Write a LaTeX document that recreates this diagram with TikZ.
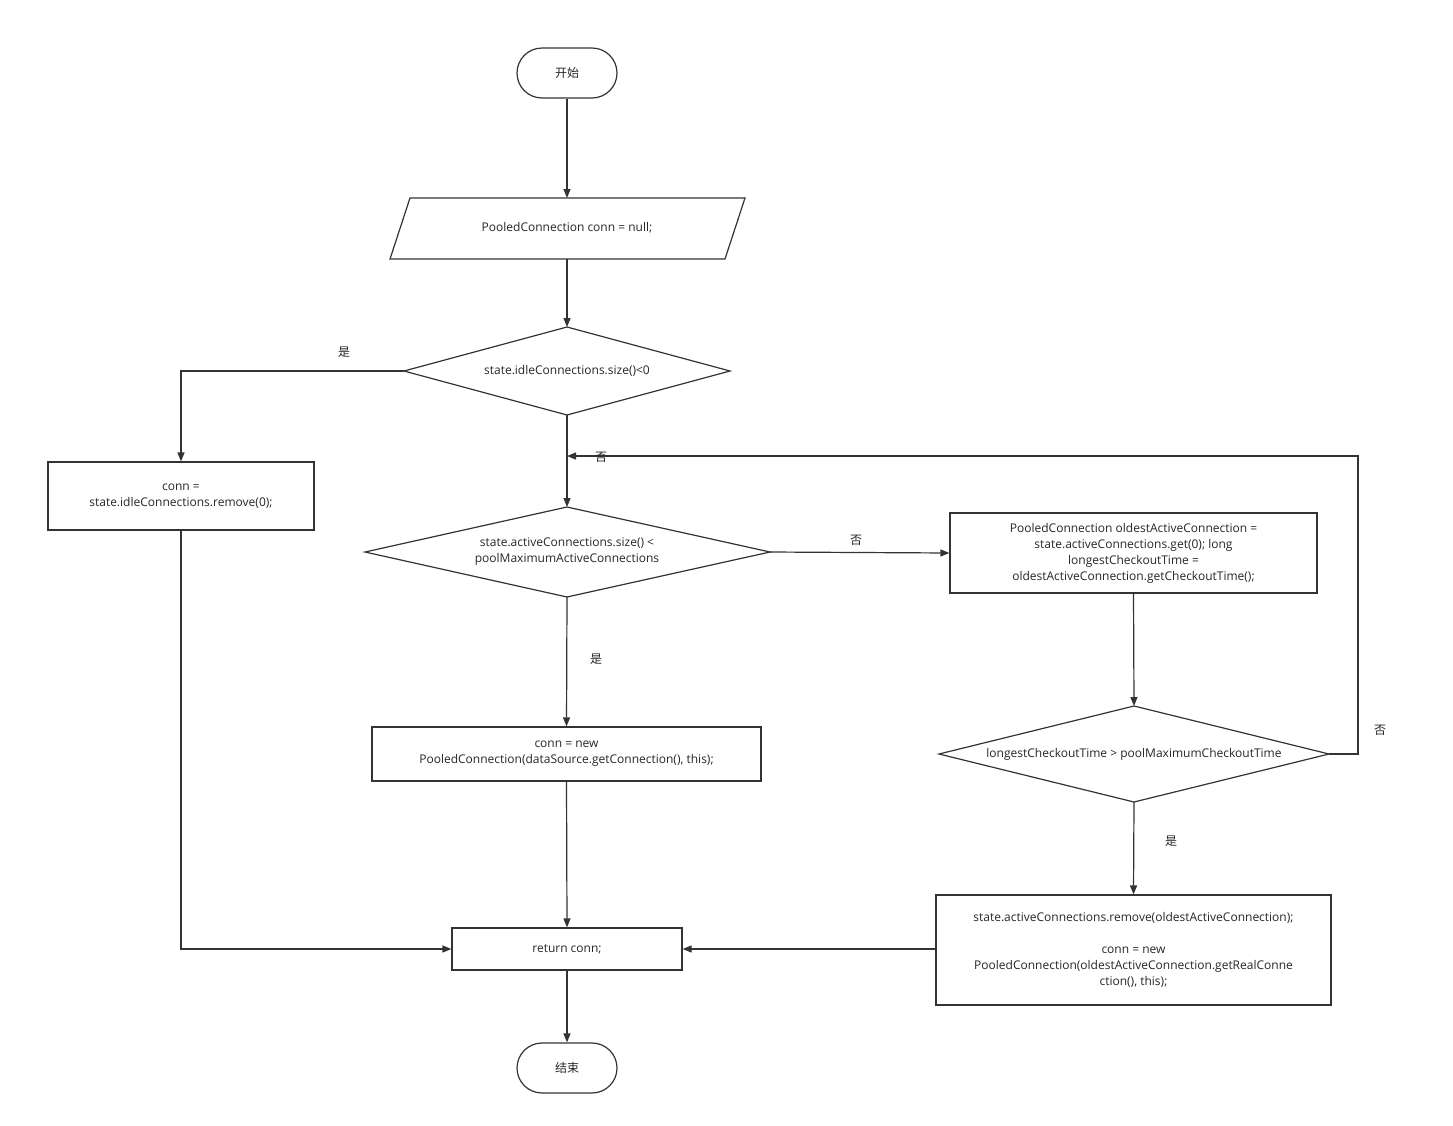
\documentclass[tikz,border=0pt]{standalone}
\usepackage{fontspec}
\setmainfont{Open Sans}
\newfontfamily\cjk{Noto Sans CJK SC}
\usetikzlibrary{arrows.meta,shapes.geometric}
\begin{document}
\begin{tikzpicture}[x=1pt,y=-1pt,
  every node/.style={font=\fontsize{12}{16}\selectfont, text=black!85},
  box/.style={draw=black!80, line width=1.2pt, rectangle, inner sep=0pt, align=center},
  term/.style={draw=black!80, line width=1.2pt, rounded corners=25pt, minimum width=100pt, minimum height=50pt, inner sep=0pt},
  shp/.style={draw=black!80, line width=1.2pt},
  arr/.style={draw=black!80, line width=1.2pt, -{Triangle[length=9pt,width=7pt]}},
  lab/.style={font=\cjk\fontsize{12}{14}\selectfont}]
\useasboundingbox (0,0) rectangle (1453,1125);
\node[term] (start) at (567,73) {\cjk 开始};
\draw[shp] (410,198) -- (745,198) -- (725,259) -- (390,259) -- cycle;
\node (para) at (567,228) {PooledConnection conn = null;};
\coordinate (parab) at (567,259);
\coordinate (parat) at (567,198);
% diamond 1
\draw[shp] (567,327) -- (730,371) -- (567,415) -- (404,371) -- cycle;
\node (d1) at (567,371) {state.idleConnections.size()<0};
\coordinate (d1t) at (567,327); \coordinate (d1b) at (567,415); \coordinate (d1l) at (404,371);
% diamond 2
\draw[shp] (567,507) -- (770,552) -- (567,597) -- (365,552) -- cycle;
\node[align=center] (d2) at (567,552) {state.activeConnections.size() <\\poolMaximumActiveConnections};
\coordinate (d2t) at (567,507); \coordinate (d2b) at (567,597); \coordinate (d2r) at (770,552);
% diamond 3
\draw[shp] (1134,706) -- (1329,754) -- (1134,802) -- (939,754) -- cycle;
\node (d3) at (1134,754) {longestCheckoutTime > poolMaximumCheckoutTime};
\coordinate (d3t) at (1134,706); \coordinate (d3b) at (1134,802); \coordinate (d3r) at (1329,754);
% boxes
\node[box, minimum width=266pt, minimum height=68pt] (idle) at (181,496) {conn =\\state.idleConnections.remove(0);};
\node[box, minimum width=389pt, minimum height=54pt] (newc) at (566.5,754) {conn = new\\PooledConnection(dataSource.getConnection(), this);};
\node[box, minimum width=367pt, minimum height=80pt] (old) at (1133.5,553) {PooledConnection oldestActiveConnection =\\state.activeConnections.get(0); long\\longestCheckoutTime =\\oldestActiveConnection.getCheckoutTime();};
\node[box, minimum width=395pt, minimum height=110pt] (rem) at (1133.5,950) {state.activeConnections.remove(oldestActiveConnection);\\[16pt]conn = new\\PooledConnection(oldestActiveConnection.getRealConne\\ction(), this);};
\node[box, minimum width=230pt, minimum height=42pt] (ret) at (567,949) {return conn;};
\node[term] (end) at (567,1068) {\cjk 结束};
% connectors
\draw[arr] (start) -- (parat);
\draw[arr] (parab) -- (d1t);
\draw[arr] (d1l) -| (idle.north);
\draw[arr] (d1b) -- (d2t);
\draw[arr] (d2b) -- (newc.north);
\draw[arr] (d2r) -- (old.west);
\draw[arr] (old.south) -- (d3t);
\draw[arr] (d3b) -- (rem.north);
\coordinate (loopa) at (1358,754);
\coordinate (loopb) at (1358,456);
\coordinate (loopc) at (567,456);
\draw[arr] (d3r) -- (loopa) -- (loopb) -- (loopc);
\draw[arr] (idle.south) |- (ret.west);
\draw[arr] (newc.south) -- (ret.north);
\draw[arr] (rem.west |- ret) -- (ret.east);
\draw[arr] (ret.south) -- (end.north);
% labels
\node[lab] at (344,352) {是};
\node[lab] at (601,457) {否};
\node[lab] at (856,540) {否};
\node[lab] at (596,659) {是};
\node[lab] at (1380,730) {否};
\node[lab] at (1171,841) {是};
\end{tikzpicture}
\end{document}
